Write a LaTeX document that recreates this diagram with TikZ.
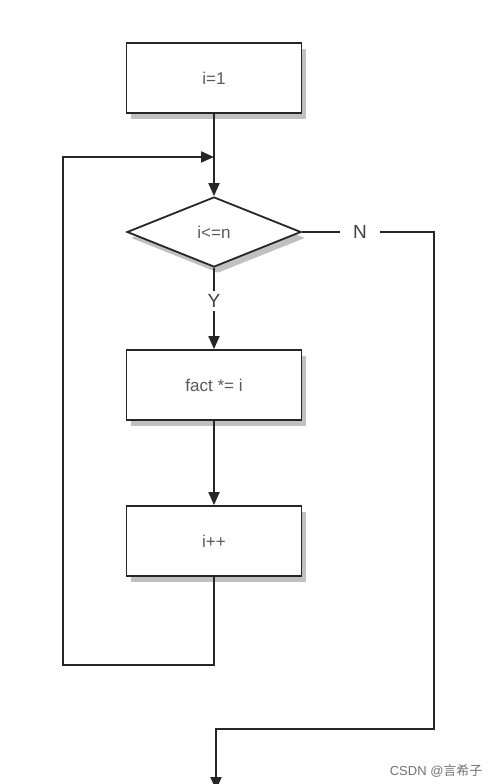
\documentclass[tikz,border=0pt]{standalone}
\usepackage{fontspec}
\setmainfont{Liberation Sans}
\newfontfamily\cjkfont{Noto Sans CJK SC}
\usetikzlibrary{arrows.meta,shapes.geometric,shadows}
\begin{document}
\begin{tikzpicture}[x=1pt,y=-1pt,
  line/.style={draw=black!85,line width=1.8pt},
  arr/.style={line,-{Triangle[length=13pt,width=11pt]}},
  shad/.style={drop shadow={shadow xshift=4pt,shadow yshift=-6pt,opacity=0.35,fill=black!70}},
  procbox/.style={rectangle,line,fill=white,minimum width=175pt,minimum height=70pt,inner sep=0pt,shad,
    font=\fontsize{17}{19}\selectfont,text=black!65},
  decbox/.style={diamond,line,fill=white,minimum width=174pt,minimum height=70pt,aspect=2.5,inner sep=0pt,shad,
    font=\fontsize{17}{19}\selectfont,text=black!65},
  lbl/.style={font=\fontsize{19}{21}\selectfont,text=black!75,inner sep=0pt}]
\useasboundingbox (0,0) rectangle (501,784);
\fill[white] (0,0) rectangle (501,784);
\node[procbox] (init) at (214,78) {i=1};
\node[decbox] (cond) at (214,232) {i<=n};
\node[procbox] (fact) at (214,385) {fact *= i};
\node[procbox] (inc) at (214,541) {i++};
\node[lbl] (Y) at (214,301) {Y};
\node[lbl] (N) at (360,232) {N};
\coordinate (join) at (214,157);
\coordinate (lt) at (63,157);
\coordinate (lb) at (63,665);
\coordinate (rb) at (214,665);
\coordinate (nr) at (434,232);
\coordinate (nb) at (434,729);
\coordinate (ob) at (216,729);
\coordinate (out) at (216,790);
\coordinate (nl) at (340,232);
\coordinate (nrs) at (380,232);
\draw[arr] (init.south) -- (cond.north);
\draw[arr] (inc.south) -- (rb) -- (lb) -- (lt) -- (join);
\draw[line] (cond.south) -- ([yshift=3pt]Y.north);
\draw[arr] ([yshift=-3pt]Y.south) -- (fact.north);
\draw[arr] (fact.south) -- (inc.north);
\draw[line] (cond.east) -- (nl);
\draw[arr] (nrs) -- (nr) -- (nb) -- (ob) -- (out);
\node[text=black!55,font=\fontsize{13}{15}\selectfont,anchor=east] (wm) at (486,771) {CSDN @{\cjkfont 言希子}};
\end{tikzpicture}
\end{document}
